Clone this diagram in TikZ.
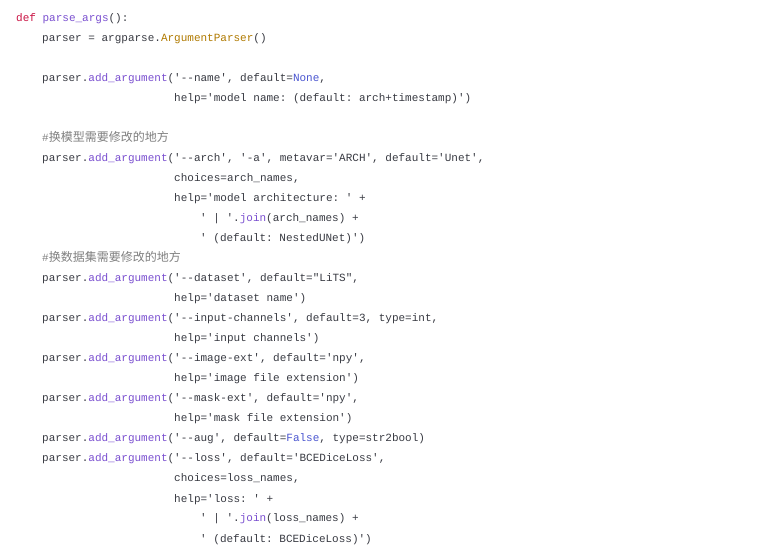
\documentclass[tikz,border=0pt]{standalone}
\usepackage{fontspec}
\setmonofont{Liberation Mono}
\newfontfamily\cjk{Noto Sans CJK SC}
\definecolor{txt}{HTML}{383A42}
\definecolor{kw}{HTML}{CA1243}
\definecolor{fnc}{HTML}{7A4FD0}
\definecolor{cls}{HTML}{B07A00}
\definecolor{lit}{HTML}{4A55D0}
\definecolor{cmt}{HTML}{808080}
\newcommand\Kw[1]{\textcolor{kw}{#1}}
\newcommand\Fn[1]{\textcolor{fnc}{#1}}
\newcommand\Cl[1]{\textcolor{cls}{#1}}
\newcommand\Lt[1]{\textcolor{lit}{#1}}
\tikzset{codeline/.style={anchor=base west,inner sep=0pt,font=\ttfamily\fontsize{11}{13}\selectfont,text=txt},
commentline/.style={anchor=base west,inner sep=0pt,font=\ttfamily\fontsize{11}{13}\selectfont,text=cmt}}
\begin{document}
\begin{tikzpicture}[x=1pt,y=1pt]
\useasboundingbox[fill=white] (0,0) rectangle (776,546);
\def\B#1{\fpeval{546-22-20*#1}}
\node[codeline] (l0) at (16,\B{0}) {\Kw{def} \Fn{parse\_args}():};
\node[codeline] (l1) at (42,\B{1}) {parser = argparse.\Cl{ArgumentParser}()};
\node[codeline] (l3) at (42,\B{3}) {parser.\Fn{add\_argument}('--name', default=\Lt{None},};
\node[codeline] (l4) at (174,\B{4}) {help='model name: (default: arch+timestamp)')};
\node[commentline] (l6) at (42,\B{6}) {\#{\cjk\fontsize{12}{13}\selectfont 换模型需要修改的地方}};
\node[codeline] (l7) at (42,\B{7}) {parser.\Fn{add\_argument}('--arch', '-a', metavar='ARCH', default='Unet',};
\node[codeline] (l8) at (174,\B{8}) {choices=arch\_names,};
\node[codeline] (l9) at (174,\B{9}) {help='model architecture: ' +};
\node[codeline] (l10) at (200,\B{10}) {' | '.\Fn{join}(arch\_names) +};
\node[codeline] (l11) at (200,\B{11}) {' (default: NestedUNet)')};
\node[commentline] (l12) at (42,\B{12}) {\#{\cjk\fontsize{12}{13}\selectfont 换数据集需要修改的地方}};
\node[codeline] (l13) at (42,\B{13}) {parser.\Fn{add\_argument}('--dataset', default="LiTS",};
\node[codeline] (l14) at (174,\B{14}) {help='dataset name')};
\node[codeline] (l15) at (42,\B{15}) {parser.\Fn{add\_argument}('--input-channels', default=3, type=int,};
\node[codeline] (l16) at (174,\B{16}) {help='input channels')};
\node[codeline] (l17) at (42,\B{17}) {parser.\Fn{add\_argument}('--image-ext', default='npy',};
\node[codeline] (l18) at (174,\B{18}) {help='image file extension')};
\node[codeline] (l19) at (42,\B{19}) {parser.\Fn{add\_argument}('--mask-ext', default='npy',};
\node[codeline] (l20) at (174,\B{20}) {help='mask file extension')};
\node[codeline] (l21) at (42,\B{21}) {parser.\Fn{add\_argument}('--aug', default=\Lt{False}, type=str2bool)};
\node[codeline] (l22) at (42,\B{22}) {parser.\Fn{add\_argument}('--loss', default='BCEDiceLoss',};
\node[codeline] (l23) at (174,\B{23}) {choices=loss\_names,};
\node[codeline] (l24) at (174,\B{24}) {help='loss: ' +};
\node[codeline] (l25) at (200,\B{25}) {' | '.\Fn{join}(loss\_names) +};
\node[codeline] (l26) at (200,\B{26}) {' (default: BCEDiceLoss)')};
\end{tikzpicture}
\end{document}
